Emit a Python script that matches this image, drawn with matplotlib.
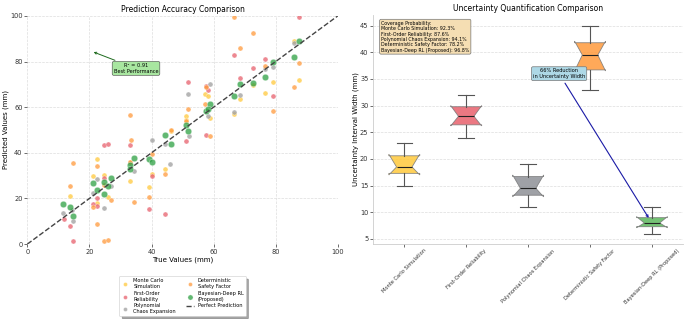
import matplotlib.pyplot as plt
import numpy as np

# ---- scatter data (true vs predicted, mm) ----
mc_true = [13.7, 21.2, 24.6, 22.5, 25.9, 33.1, 39.2, 40.1, 44.4, 33.1, 22.5,
           46.4, 51.1, 51.1, 57.3, 58.1, 58.9, 66.7, 68.6, 72.7, 76.6, 79.3, 86.0, 87.6]
mc_pred = [21.1, 29.8, 30.3, 17.9, 20.5, 27.6, 25.2, 30.7, 32.7, 36.0, 37.3,
           49.5, 56.0, 54.2, 65.7, 64.7, 55.3, 57.1, 63.7, 69.8, 66.2, 71.0, 89.2, 72.0]

fo_true = [11.8, 13.7, 14.7, 21.2, 22.5, 22.5, 24.6, 39.2, 40.1, 44.4, 24.6, 25.9,
           33.1, 51.9, 51.0, 57.6, 58.1, 57.6, 66.7, 68.6, 72.7, 76.6, 79.3, 87.6]
fo_pred = [10.9, 7.7, 1.5, 17.6, 20.4, 16.7, 28.8, 15.4, 30.0, 13.2, 43.3, 43.8,
           43.3, 71.0, 45.0, 69.4, 67.6, 48.0, 82.9, 72.6, 77.1, 81.0, 65.0, 99.7]

pce_true = [11.6, 14.7, 21.2, 22.5, 24.6, 27.0, 33.1, 34.2, 46.0, 14.4, 40.1,
            44.4, 51.9, 52.1, 58.9, 58.1, 66.7, 68.6, 76.6, 79.3, 86.0]
pce_pred = [13.5, 10.3, 22.3, 28.4, 16.0, 25.5, 35.6, 32.1, 35.0, 15.0, 45.5,
            43.9, 65.9, 47.2, 70.3, 56.0, 57.9, 65.5, 76.6, 77.4, 88.0]

dsf_true = [14.7, 13.7, 22.5, 21.2, 22.5, 24.6, 25.9, 27.0, 24.6, 34.2, 39.2, 40.1,
            44.4, 33.1, 33.1, 33.4, 46.4, 51.1, 51.9, 57.3, 58.9, 66.7, 68.6, 72.7,
            76.6, 79.3, 86.0, 87.6, 57.6]
dsf_pred = [35.6, 25.5, 34.3, 16.4, 8.9, 1.2, 1.9, 19.3, 25.9, 18.3, 20.8, 39.3,
            30.7, 36.0, 56.7, 45.8, 49.9, 53.8, 59.3, 61.4, 47.5, 99.7, 85.9, 92.4,
            78.1, 58.5, 68.8, 79.3, 68.7]

bdrl_true = [11.6, 13.7, 14.7, 21.2, 22.5, 24.6, 24.6, 25.9, 27.0, 33.1, 33.1, 34.2,
             39.2, 40.1, 44.4, 46.4, 51.1, 51.9, 57.6, 58.9, 58.1, 66.7, 68.6, 72.7,
             76.6, 79.3, 86.0, 87.6]
bdrl_pred = [17.5, 16.4, 12.5, 26.9, 23.7, 27.1, 21.8, 25.6, 28.8, 34.6, 32.9, 37.8,
             37.1, 36.1, 47.6, 44.0, 52.0, 49.7, 58.4, 61.4, 59.0, 64.7, 70.1, 70.4,
             73.2, 80.0, 82.2, 89.0]

# ---- uncertainty interval widths (box stats) ----
methods = ['Monte Carlo Simulation', 'First-Order Reliability', 'Polynomial Chaos Expansion',
           'Deterministic Safety Factor', 'Bayesian-Deep RL (Proposed)']
box_min = [15, 24, 11, 33, 6]
box_q1 = [17.3, 26.4, 13.2, 36.7, 7.3]
box_med = [18.5, 28.0, 14.5, 39.5, 8.0]
box_q3 = [20.6, 29.8, 16.7, 41.8, 9.0]
box_max = [23, 32, 19, 45, 11]
box_cilo = [17.0, 26.2, 12.9, 36.5, 7.1]
box_cihi = [20.9, 30.0, 17.0, 42.1, 9.2]

coverage = [92.3, 87.6, 94.1, 78.2, 96.8]

scatter_colors = ['#FFC93C', '#E8606C', '#9E9E9E', '#FF9A3C', '#2EA043']
box_colors = ['#FFC93C', '#E8606C', '#8E9197', '#FF9A3C', '#5CB85C']

fig = plt.figure(figsize=(6.85, 3.19), dpi=100)
ax1 = fig.add_axes([0.040, 0.235, 0.453, 0.715])
ax2 = fig.add_axes([0.545, 0.235, 0.452, 0.718])

# ---- left: prediction accuracy ----
series = [(mc_true, mc_pred, 'Monte Carlo\nSimulation'),
          (fo_true, fo_pred, 'First-Order\nReliability'),
          (pce_true, pce_pred, 'Polynomial\nChaos Expansion'),
          (dsf_true, dsf_pred, 'Deterministic\nSafety Factor'),
          (bdrl_true, bdrl_pred, 'Bayesian-Deep RL\n(Proposed)')]
for i, (xs, ys, lab) in enumerate(series):
    size = 22 if i == 4 else 13
    ax1.scatter(xs, ys, s=size, color=scatter_colors[i], alpha=0.75,
                edgecolors='white', linewidths=0.3, label=lab, zorder=3)
ax1.plot([0, 100], [0, 100], '--', color='#444444', lw=1.0, label='Perfect Prediction', zorder=4)
ax1.set_xlim(0, 100)
ax1.set_ylim(0, 100)
ax1.set_title('Prediction Accuracy Comparison', fontsize=5.5, pad=3)
ax1.set_xlabel('True Values (mm)', fontsize=5, labelpad=1)
ax1.set_ylabel('Predicted Values (mm)', fontsize=5, labelpad=1)
ax1.grid(True, linestyle='--', color='#dddddd', lw=0.5)
ax1.annotate('R² = 0.91\nBest Performance', xy=(20.5, 84.6), xytext=(35, 77),
             fontsize=3.6, ha='center', va='center',
             bbox=dict(boxstyle='round,pad=0.3', fc='#a8e6a0', ec='#444444', lw=0.4),
             arrowprops=dict(arrowstyle='->', color='#1e6b1e', lw=0.7))

leg = ax1.legend(loc='upper center', bbox_to_anchor=(0.5, -0.13), ncol=2,
                 fontsize=3.6, frameon=True, shadow=True, markerscale=0.8,
                 handlelength=1.6, columnspacing=2.0, labelspacing=0.35,
                 borderpad=0.4, handletextpad=0.8)
leg.get_frame().set_linewidth(0.4)

# ---- right: uncertainty quantification ----
stats = []
for i, m in enumerate(methods):
    stats.append(dict(label=m, med=box_med[i], q1=box_q1[i], q3=box_q3[i],
                      whislo=box_min[i], whishi=box_max[i],
                      cilo=box_cilo[i], cihi=box_cihi[i], fliers=[]))
bp = ax2.bxp(stats, positions=range(1, 6), widths=0.5, shownotches=True,
             patch_artist=True, showfliers=False,
             medianprops=dict(color='#222222', lw=0.8),
             whiskerprops=dict(color='#555555', lw=0.8),
             capprops=dict(color='#555555', lw=0.8))
for patch, c in zip(bp['boxes'], box_colors):
    patch.set_facecolor(c)
    patch.set_alpha(0.85)
    patch.set_edgecolor('#777777')
    patch.set_linewidth(0.6)

ax2.set_xlim(0.5, 5.5)
ax2.set_ylim(4.05, 47.0)
ax2.set_title('Uncertainty Quantification Comparison', fontsize=5.5, pad=3)
ax2.set_ylabel('Uncertainty Interval Width (mm)', fontsize=5, labelpad=1)
ax2.set_xticks(range(1, 6))
ax2.set_xticklabels(methods, rotation=45, ha='center')
ax2.yaxis.grid(True, linestyle='--', color='#dddddd', lw=0.5)
ax2.set_axisbelow(True)

cov_text = 'Coverage Probability:\n' + '\n'.join(
    f'{m}: {c}%' for m, c in zip(methods, coverage))
ax2.text(0.025, 0.975, cov_text, transform=ax2.transAxes, fontsize=3.4,
         va='top', ha='left', linespacing=1.1,
         bbox=dict(boxstyle='round,pad=0.3', fc='#f5deb3', ec='#777777', lw=0.5))
ax2.annotate('66% Reduction\nin Uncertainty Width', xy=(4.97, 8.5), xytext=(3.5, 36),
             fontsize=3.6, ha='center', va='center',
             bbox=dict(boxstyle='round,pad=0.3', fc='#add8e6', ec='#777777', lw=0.5),
             arrowprops=dict(arrowstyle='->', color='#1a1aa6', lw=0.8))

for ax in (ax1, ax2):
    ax.tick_params(labelsize=4.8, length=2, width=0.5, colors='#333333', pad=1.5)
    for side in ('top', 'right'):
        ax.spines[side].set_visible(False)
    for side in ('left', 'bottom'):
        ax.spines[side].set_color('#cccccc')
        ax.spines[side].set_linewidth(0.6)
ax1.spines['left'].set_visible(False)
ax1.spines['bottom'].set_visible(False)
ax2.tick_params(axis='x', labelsize=3.7, pad=1)

fig.savefig('out.png', dpi=100)
